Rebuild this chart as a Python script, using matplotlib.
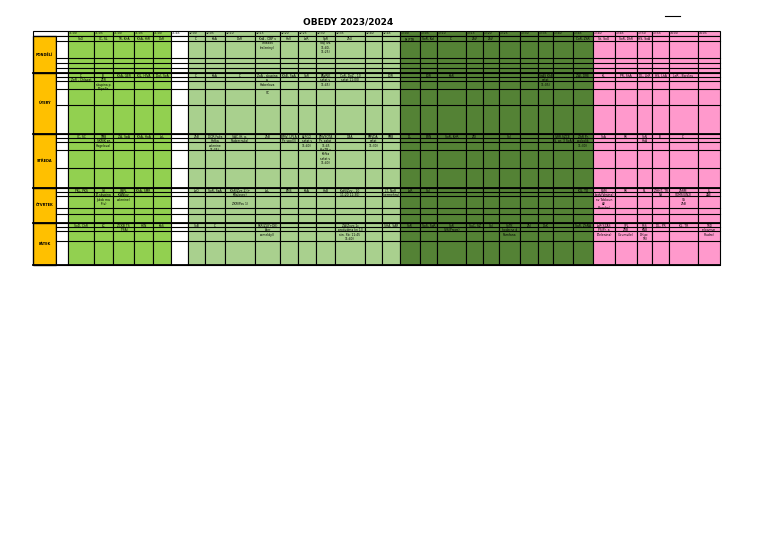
import matplotlib.pyplot as plt
from matplotlib.patches import Rectangle

days = ['PONDĚLÍ', 'ÚTERÝ', 'STŘEDA', 'ČTVRTEK', 'PÁTEK']
times = ['11:00', '11:05', '11:00', '11:05', '11:00', '11:45', '12:00', '12:05', '12:10', '12:15',
         '12:20', '12:25', '12:30', '12:35', '12:40', '12:45', '13:00', '13:05', '13:10', '13:15',
         '13:20', '13:25', '13:30', '13:35', '13:40', '13:45', '13:40', '13:45', '13:50', '13:55',
         '14:00', '14:05']
# column groups: 0 white, 1 bright green, 2 light green, 3 dark green, 4 pink
groups = [1] * 5 + [0] + [2] * 10 + [3] * 10 + [4] * 6
texts = {
    0: {0: 'SoO', 1: 'IC, SL', 2: 'TR, KhA', 3: 'KhA, HiR', 4: 'DoR', 6: 'IC', 7: 'KhA', 8: 'DoR',
        9: 'KrA - OBP v\nChlebov\n(zeleniny)', 10: 'HoV', 11: 'LeR', 12: 'SpR\nSaJ (vš.\n11:40-\n11:25)',
        13: 'ZhU', 16: 'Pr_PTR', 17: 'SoR, Kol', 18: 'IC', 19: 'ZoV', 20: 'ZoV', 25: 'CoR, ZhR',
        26: 'St. SoO', 27: 'SoR, DhR', 28: 'HS, SoA'},
    1: {0: 'IC\nZeR - Chlapat', 1: 'IB\nZER\nskupina p.\nFilipella', 2: 'KhA, GER', 3: 'KIL, HIVA',
        4: 'DoJ, SoA', 6: 'IC', 7: 'KhA', 8: 'IC', 9: 'ZoA - skupina\np.\nHaberlova\n\nSC',
        10: 'KhB, SpA', 11: 'SpR', 12: 'PAVRJK\nsalat v\n11:45)', 13: 'CoR, DoZ - 10\nsalat 11:00)',
        15: 'LDR', 17: 'LDR', 18: 'KhR', 23: 'StAS KhB\nsalat\n11:05)', 25: 'ZAJ, DRE',
        26: 'KL', 27: 'PR, ShA', 28: 'DL, LhR', 29: 'HS, LhA', 30: 'LeR - Bordieu'},
    2: {0: 'IC, SC', 1: 'TMB\nSKR(K pr.\nHagelova)', 2: 'ZA, SpA', 3: 'KhA, HoA', 4: 'LoL',
        6: 'ZhB', 7: 'DOR Falja\nHofka\nzelenine\n11:35)', 8: 'SAC.(H. p.\nRadpernula)', 9: 'ZhB',
        10: 'BMV, LPLA\nPe spo(3)', 11: 'ALPGO\nsalat v\n11:40)', 12: 'BMVSOTA\nPr. salat\n11:45\nA+TR v\nKofka\nsalat v\n11:40)',
        13: 'DAA', 14: 'PMVDA\nsalat\n11:30)', 15: 'PMB', 16: 'DL', 17: 'BRN', 18: 'SoR, KhR',
        19: 'ZOI', 21: 'SoI', 24: 'S.RR.SZCE\n(S. pr. 3 SoA)', 25: 'ZhR Pr.\npodpolik\n11:30)',
        26: 'SoA', 27: 'PR', 28: 'SoN\nHoA', 29: 'IB', 30: 'IC'},
    3: {0: 'PKL, PKS', 1: 'Srl\n(Z.skupina\nJakob ma\nFriv)', 2: 'OBPL\n(KANlov\nzelenine)', 3: 'KhA, SMR',
        6: 'LoO', 7: 'SoR, SpA', 8: 'KhR(Zve 2)(+\nKRalovec)\n\nZKR(Pos 1)', 9: 'LoL',
        10: 'BMB', 11: 'KhA', 12: 'HoB', 13: 'KoN(Zvy - 10\n11:20 11:30)', 15: 'LT, NeR\n(vermehra)',
        16: 'LoR', 17: 'SoJ', 25: 'KG, TO', 26: 'RSM\nbody(Vesjna)\nsv Tobkoun\nA2\n(Beruhe)',
        27: 'PR', 28: 'PL', 29: 'ZHHT, TR\nNS', 30: 'ZhRM\nSOMS(UN2)\nSS\nZhB', 31: 'LL\nZAE'},
    4: {0: 'SoD, ChR', 1: 'LC', 2: 'ZCKB TS\nTrSA)', 3: 'HKN', 4: 'KhS', 6: 'SoB', 7: 'IC',
        9: 'PKR(ZUY+DK)\nYaer\nzumeldy))', 13: 'ZA(Zvyo 1c\nprotivdma kn 13\nstn. Sb: 11:45\n11:40)',
        15: 'SHA, SAR', 16: 'SoR', 17: 'SoS, SoR', 18: 'SoR\nS26(Proge)', 19: 'SuC, SZ',
        20: 'SoI', 21: 'SoTK\nhoderne d\nRamfana', 22: 'ZhI', 23: 'DkK', 25: 'SaR, ZhNA',
        26: 'LoR(SZAS\nPS(Pr. a\n(Zelenina)', 27: 'SPL\nZRB\n(Grumvile)', 28: 'FSS\nKNB\nDH.pr.\nTR)',
        29: 'DL, PR', 30: 'KL, TR', 31: 'TRD\nrelogmun\n(Rudro)'},
}

# layout
col_w = [26, 19, 21, 19, 18, 17, 17, 20, 30, 25, 18, 18, 19, 30, 17, 18,
         20, 17, 29, 17, 16, 21, 18, 15, 20, 20, 22, 22, 15, 17, 29, 22]
day_h = [[5, 17, 5, 5, 5], [4, 4, 8, 16, 29], [4, 4, 8, 18, 20], [4, 4, 12, 6, 9], [4, 4, 10, 24]]
palette = {0: 'white', 1: '#92D050', 2: '#A9D08E', 3: '#548235', 4: '#FF99CC'}
x0, y0, w_day, w_blank, hdr = 33, 31, 23, 12, 5

fig = plt.figure(figsize=(7.68, 5.43), dpi=100)
ax = fig.add_axes([0, 0, 1, 1])
ax.set_xlim(0, 768)
ax.set_ylim(543, 0)
ax.axis('off')

xs = [x0 + w_day + w_blank]
for w in col_w:
    xs.append(xs[-1] + w)
x_end = xs[-1]

# header
ax.add_patch(Rectangle((x0, y0), w_day + w_blank, hdr, fc='white', ec='black', lw=0.8))
for i, t in enumerate(times):
    ax.add_patch(Rectangle((xs[i], y0), col_w[i], hdr, fc=palette[groups[i]], ec='black', lw=0.8))
    ax.text(xs[i] + 1, y0 + hdr / 2, t, fontsize=2.2, va='center')

y = y0 + hdr
for d, day in enumerate(days):
    h_tot = sum(day_h[d])
    ax.add_patch(Rectangle((x0, y), w_day, h_tot, fc='#FFC000', ec='black', lw=1.0))
    ax.text(x0 + w_day / 2, y + h_tot / 2, day, fontsize=2.5, ha='center', va='center', weight='bold')
    ax.add_patch(Rectangle((x0 + w_day, y), w_blank, h_tot, fc='white', ec='black', lw=0.8))
    for i in range(len(col_w)):
        ax.add_patch(Rectangle((xs[i], y), col_w[i], h_tot, fc=palette[groups[i]], ec='black', lw=0.8))
    yy = y
    for h in day_h[d][:-1]:
        yy += h
        ax.plot([x0 + w_day, x_end], [yy, yy], color='black', lw=0.8)
    for i, t in texts[d].items():
        ax.text(xs[i] + col_w[i] / 2, y + 1, t, fontsize=2.2, ha='center', va='top',
                linespacing=1.1)
    ax.plot([x0, x_end], [y + h_tot, y + h_tot], color='black', lw=1.3)
    y += h_tot

ax.text(348, 22, 'OBEDY 2023/2024', fontsize=6.5, weight='bold', ha='center', va='center')
ax.plot([665, 680], [16, 16], color='black', lw=0.8)

fig.savefig('out.png', dpi=100)
